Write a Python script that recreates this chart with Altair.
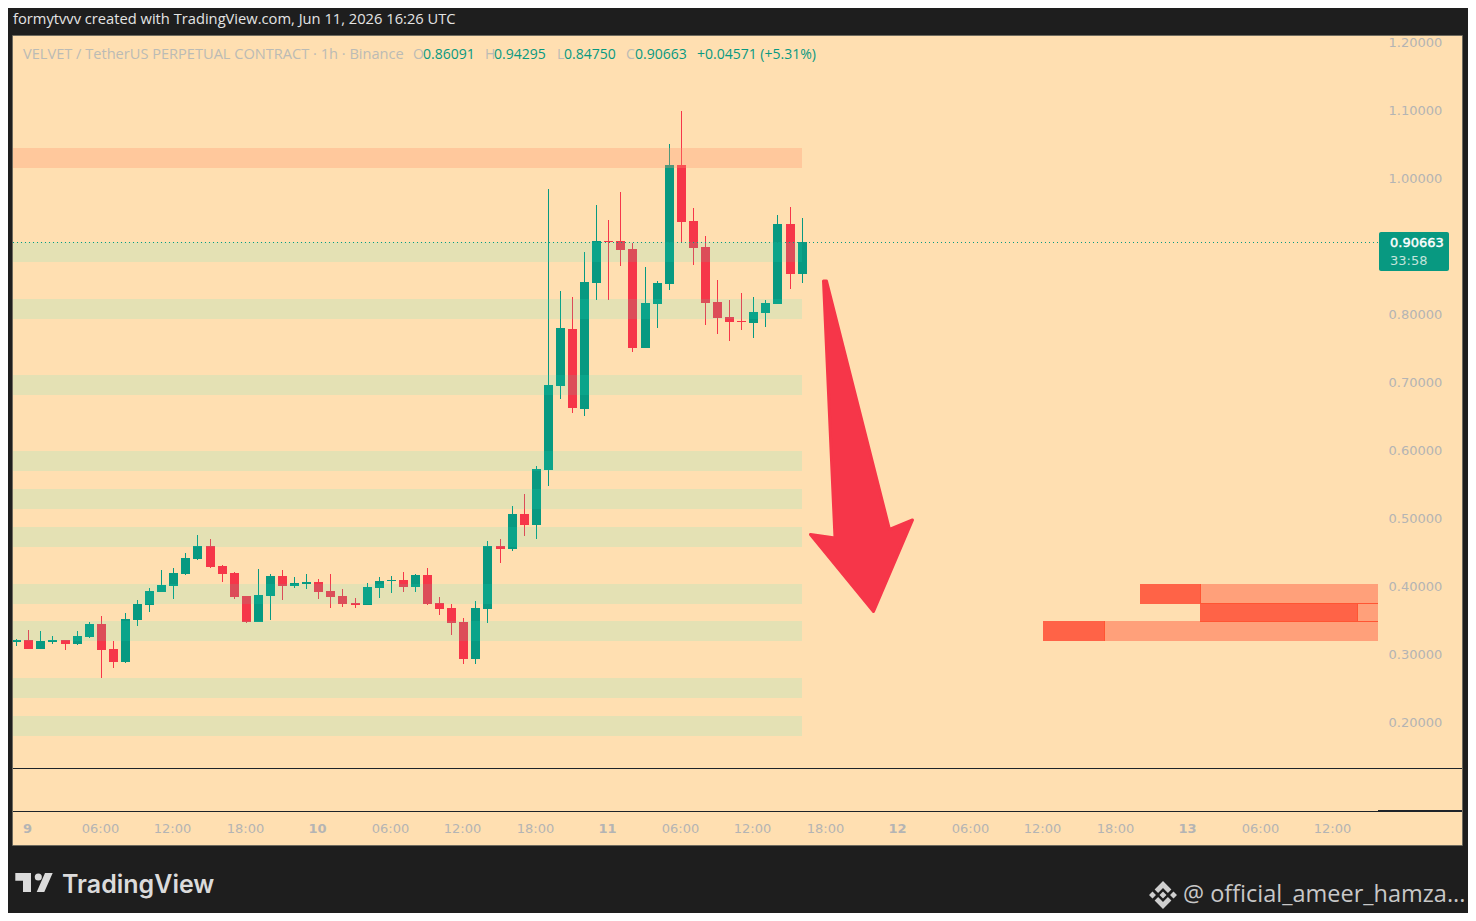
import altair as alt
import pandas as pd

# ---- candle data (hours since 9 Jun 00:00) ----
HOURS = list(range(-1, 65))
OPENS = [.3191,.3221,.3088,.3191,.3221,.3162,.3265,.3456,.3088,.2897,.3515,.3735,.3926,.4015,.4191,.4412,.4603,.4309,.4206,.3868,.3485,.3868,.4162,.4015,.4044,.4074,.3941,.3868,.3765,.3735,.3985,.4088,.4103,.4000,.4176,.3765,.3691,.3485,.2941,.3676,.4603,.4559,.5074,.4912,.5721,.6956,.7794,.6618,.8471,.9088,.9088,.8971,.7515,.8162,.8456,1.0206,.9382,.9000,.8191,.7971,.7912,.7882,.8029,.8162,.9338,.86091]
HIGHS = [.3235,.3368,.3353,.3279,.3221,.3353,.3485,.3574,.3206,.3618,.3809,.3985,.4250,.4279,.4500,.4765,.4706,.4324,.4221,.3868,.4265,.4191,.4250,.4147,.4191,.4118,.4191,.3971,.3838,.4059,.4147,.4162,.4221,.4191,.4279,.3853,.3750,.3544,.3794,.4676,.4706,.5191,.5368,.5779,.9853,.8353,.8265,.8926,.9618,.9397,.9809,.9059,.8706,.8500,1.0515,1.1000,.9574,.9162,.8515,.8221,.8324,.8265,.8221,.9471,.9588,.94295]
LOWS = [.3132,.3088,.3088,.3162,.3074,.3147,.3250,.2662,.2809,.2882,.3426,.3632,.3926,.3824,.4176,.4397,.4279,.4074,.3824,.3471,.3485,.3515,.3809,.3985,.3971,.3824,.3691,.3706,.3691,.3735,.3838,.3912,.3926,.3926,.3735,.3588,.3294,.2868,.2868,.3471,.4353,.4529,.4750,.4706,.5485,.6765,.6559,.6515,.8221,.8221,.8721,.7456,.7515,.7809,.8368,.9059,.8735,.7853,.7721,.7618,.7779,.7662,.7824,.8162,.8382,.84750]
CLOSES = [.3221,.3088,.3206,.3221,.3162,.3279,.3456,.3074,.2897,.3529,.3750,.3941,.4029,.4206,.4426,.4603,.4294,.4191,.3853,.3485,.3882,.4162,.4015,.4059,.4074,.3926,.3853,.3750,.3735,.4000,.4088,.4103,.4000,.4176,.3750,.3676,.3471,.2941,.3691,.4603,.4559,.5074,.4912,.5735,.6971,.7809,.6632,.8485,.9088,.9074,.8956,.7515,.8176,.8471,1.0206,.9368,.8985,.8176,.7956,.7897,.7897,.8044,.8176,.9338,.8603,.90663]

# horizontal zones: (low, high)
GREEN_LOW = [.8779,.7941,.6824,.5706,.5147,.4588,.3750,.3206,.2368,.1809]
GREEN_HIGH = [.9074,.8235,.7118,.6000,.5441,.4882,.4044,.3500,.2662,.2103]
ORANGE_LOW = [1.0162]
ORANGE_HIGH = [1.0456]
ZONE_START = [-1.27]
ZONE_END = [64.0]

# projected boxes on the right
BOX_START = [92, 97, 84]
BOX_SPLIT = [97, 110, 89]
BOX_END = [111.7, 111.7, 111.7]
BOX_LOW = [.3750, .3485, .3206]
BOX_HIGH = [.4044, .3765, .3500]

LAST_PRICE = [0.90663]
PRICE_TICKS = [0.2, 0.3, 0.4, 0.5, 0.6, 0.7, 0.8, 1.0, 1.1, 1.2]
TIME_TICKS = [0, 6, 12, 18, 24, 30, 36, 42, 48, 54, 60, 66, 72, 78, 84, 90, 96, 102, 108]
TIME_LABELS = ["9", "06:00", "12:00", "18:00", "10", "06:00", "12:00", "18:00", "11", "06:00", "12:00", "18:00", "12", "06:00", "12:00", "18:00", "13", "06:00", "12:00"]

BG = "#FFDFB1"
DARK = "#1E1E1E"
UP = "#089981"
DOWN = "#F63649"
AXIS_TXT = "#B4B4B4"
MUTED = "#BBBBB5"
F_AXIS = "DejaVu Sans"
F_HEAD = "Open Sans"

WIDTH, HEIGHT = 1460, 905
one = alt.Data(values=[{"a": 0}])


def sx(px):
    return px - 8


def sy(px):
    return px - 8


x_scale = alt.Scale(domain=[-1.680, 119.15], nice=False, zero=False, round=True, padding=0)
y_scale = alt.Scale(domain=[-0.07941, 1.25147], nice=False, zero=False, round=True)

label_map = "{" + ",".join(f"'{t}':'{l}'" for t, l in zip(TIME_TICKS, TIME_LABELS)) + "}"
x_axis = alt.Axis(
    values=TIME_TICKS, labelExpr=f"{label_map}[''+datum.value]", title=None, grid=False,
    ticks=False, domain=False, labelColor=AXIS_TXT, labelFont=F_AXIS, labelFontSize=13,
    labelFontWeight={"condition": {"test": "datum.value % 24 === 0", "value": "bold"}, "value": "normal"},
    labelOverlap=False, labelFlush=False, labelBound=False, orient="bottom", offset=-102,
    labelPadding=11, labelOffset=-1, zindex=1,
)
y_axis = alt.Axis(
    values=PRICE_TICKS, format=".5f", title=None, grid=False, ticks=False, domain=False,
    labelColor=AXIS_TXT, labelFont=F_AXIS, labelFontSize=13, labelOverlap=False,
    labelFlush=False, labelBound=False, orient="right", offset=-90, labelPadding=10,
    labelOffset=-1, labelAlign="left", zindex=1,
)


def X(field):
    return alt.X(field, type="quantitative", scale=x_scale, axis=x_axis)


def Y(field):
    return alt.Y(field, type="quantitative", scale=y_scale, axis=y_axis)


def txt(label, x, y, color, size, font=F_HEAD, weight="normal", **kw):
    return alt.Chart(one).mark_text(
        text=label, color=color, fontSize=size, font=font, fontWeight=weight,
        align="left", baseline="middle", **kw,
    ).encode(x=alt.value(sx(x)), y=alt.value(sy(y)))


def rect(x0, x1, y0, y1, **kw):
    return alt.Chart(one).mark_rect(**kw).encode(
        x=alt.value(sx(x0)), x2=alt.value(sx(x1)), y=alt.value(sy(y0)), y2=alt.value(sy(y1)))


def hline(x0, x1, y, color, width):
    return alt.Chart(one).mark_rule(color=color, strokeWidth=width).encode(
        x=alt.value(sx(x0)), x2=alt.value(sx(x1)), y=alt.value(sy(y)))


candles = pd.DataFrame({"h": HOURS, "o": OPENS, "hi": HIGHS, "lo": LOWS, "c": CLOSES})
candles["up"] = candles["c"] >= candles["o"]
colour = alt.Color("up:N", scale=alt.Scale(domain=[True, False], range=[UP, DOWN]), legend=None)

wicks = alt.Chart(candles).mark_rule(strokeWidth=1, xOffset=0.5).encode(
    x=X("h"), y=Y("lo"), y2="hi", color=colour)
bodies = alt.Chart(candles).mark_bar(size=9, xOffset=0.5).encode(
    x=X("h"), y=Y("o"), y2="c", color=colour)

green = pd.DataFrame({"a": ZONE_START * len(GREEN_LOW), "b": ZONE_END * len(GREEN_LOW), "l": GREEN_LOW, "u": GREEN_HIGH})
orange = pd.DataFrame({"a": ZONE_START, "b": ZONE_END, "l": ORANGE_LOW, "u": ORANGE_HIGH})
green_zones = alt.Chart(green).mark_rect(color="#1EFAD0", opacity=0.12).encode(
    x=X("a"), x2="b", y=Y("l"), y2="u")
orange_zone = alt.Chart(orange).mark_rect(color="#FF966E", opacity=0.3).encode(
    x=X("a"), x2="b", y=Y("l"), y2="u")

boxes = pd.DataFrame({"s": BOX_START, "m": BOX_SPLIT, "e": BOX_END, "l": BOX_LOW, "u": BOX_HIGH})
box_light = alt.Chart(boxes).mark_rect(color="#FFA07A").encode(
    x=X("m"), x2="e", y=Y("l"), y2="u")
box_dark = alt.Chart(boxes).mark_rect(color="#FF6347").encode(
    x=X("s"), x2="m", y=Y("l"), y2="u")
box_split = alt.Chart(boxes).mark_rule(color="#FF5533", strokeWidth=1, xOffset=0.5).encode(
    x=X("m"), y=Y("l"), y2="u")
middle = boxes.iloc[[1]]
box_edge_top = alt.Chart(middle).mark_rule(color="#FF5533", strokeWidth=1, yOffset=0.5).encode(
    x=X("s"), x2="e", y=Y("u"))
box_edge_bottom = alt.Chart(middle).mark_rule(color="#FF5533", strokeWidth=1, yOffset=-0.5).encode(
    x=X("s"), x2="e", y=Y("l"))

last_line = alt.Chart(pd.DataFrame({"p": LAST_PRICE})).mark_rule(
    color=UP, strokeWidth=1, strokeDash=[1, 3], yOffset=0.5).encode(
    x=alt.value(sx(13)), x2=alt.value(sx(1378)), y=Y("p"))

ARROW = "M-0.365,-1.69 L-0.335,-1.69 L0.295,0.795 L0.525,0.70 L0.135,1.615 L-0.495,0.845 L-0.25,0.88 Z"
arrow = alt.Chart(one).mark_point(
    shape=ARROW, filled=True, opacity=1, size=40000, fill=DOWN, stroke=DOWN,
    strokeWidth=3, strokeJoin="round",
).encode(x=alt.value(sx(860)), y=alt.value(sy(450)))

TV_MARK = "M-1.87,-0.9 L-0.3,-0.9 L-0.3,1 L-1.1,1 L-1.1,-0.13 L-1.87,-0.13 Z M1.1,-0.9 L1.87,-0.9 L1.03,1 L0.27,1 Z"
tv_mark = alt.Chart(one).mark_point(
    shape=TV_MARK, filled=True, opacity=1, size=400, fill="#DBDBDB", strokeWidth=0,
).encode(x=alt.value(sx(34)), y=alt.value(sy(882)))
tv_dot = alt.Chart(one).mark_point(
    shape="circle", filled=True, opacity=1, size=50, fill="#DBDBDB", strokeWidth=0,
).encode(x=alt.value(sx(38.3)), y=alt.value(sy(877)))

BNB = ("M0,-0.25 L0.25,0 L0,0.25 L-0.25,0 Z M-1,0 L-0.75,-0.25 L-0.5,0 L-0.75,0.25 Z "
       "M1,0 L0.75,-0.25 L0.5,0 L0.75,0.25 Z "
       "M0,-1 L0.6,-0.4 L0.35,-0.15 L0,-0.5 L-0.35,-0.15 L-0.6,-0.4 Z "
       "M0,1 L0.6,0.4 L0.35,0.15 L0,0.5 L-0.35,0.15 L-0.6,0.4 Z")
bnb = alt.Chart(one).mark_point(
    shape=BNB, filled=True, opacity=1, size=784, fill="#CFCFCF", strokeWidth=0,
).encode(x=alt.value(sx(1163)), y=alt.value(sy(895)))

layers = [
    rect(13, 1462, 35, 845, color=BG),
    wicks, bodies, green_zones, orange_zone, box_light, box_dark, box_split,
    box_edge_top, box_edge_bottom, last_line, arrow,
    hline(13, 1462, 768.5, "#1E2328", 1),
    hline(13, 1378, 811.5, "#1E2328", 1),
    hline(1378, 1462, 811, "#1E2328", 2),
    rect(8, 13, 35, 845, color=DARK),
    rect(12.5, 1462.5, 35.5, 845.5, fillOpacity=0, stroke="#6E6A5E", strokeWidth=1),
    rect(1379, 1449, 232, 271, color=UP, cornerRadius=2),
    txt("0.90663", 1390, 243, "#FFFFFF", 13, F_AXIS, stroke="#FFFFFF", strokeWidth=0.4),
    txt("33:58", 1390, 261, "#C4E4DC", 13, F_AXIS),
    txt("formytvvv created with TradingView.com, Jun 11, 2026 16:26 UTC", 13, 20, "#E4E4E4", 14.7),
    txt("VELVET / TetherUS PERPETUAL CONTRACT · 1h · Binance", 23, 55, MUTED, 14.6),
    txt("O", 413, 55, MUTED, 14), txt("0.86091", 423, 55, UP, 14),
    txt("H", 485, 55, MUTED, 14), txt("0.94295", 494, 55, UP, 14),
    txt("L", 557, 55, MUTED, 14), txt("0.84750", 564, 55, UP, 14),
    txt("C", 626, 55, MUTED, 14), txt("0.90663", 635, 55, UP, 14),
    txt("+0.04571 (+5.31%)", 697, 55, UP, 14),
    tv_mark, tv_dot,
    txt("TradingView", 62, 885, "#DBDBDB", 25, "Inter", 600),
    bnb,
    txt("@ official_ameer_hamza...", 1183, 895, "#C8C8C8", 23.5, "Open Sans"),
]

chart = alt.layer(*layers).properties(
    width=WIDTH, height=HEIGHT, background=DARK, padding=0,
    autosize=alt.AutoSizeParams(type="none"),
).configure_view(stroke=None)

chart.save("out.html", embed_options={"renderer": "svg", "actions": False})
